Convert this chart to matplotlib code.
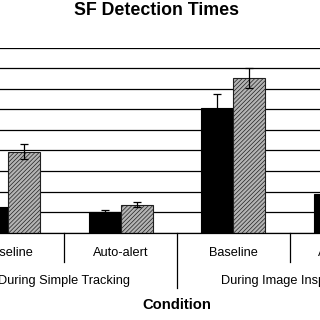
import matplotlib
matplotlib.use('Agg')
import matplotlib.pyplot as plt
import numpy as np

plt.rcParams['font.family'] = ['Liberation Sans', 'DejaVu Sans']
plt.rcParams['hatch.linewidth'] = 0.5

conditions = ['Baseline', 'Auto-alert', 'Baseline', 'Auto-alert']
groups = ['During Simple Tracking', 'During Image Inspection']
first_times = [1.26, 1.01, 6.09, 1.87]
first_err = [0.15, 0.08, 0.64, 0.15]
second_times = [3.95, 1.37, 7.54, 2.3]
second_err = [0.38, 0.10, 0.48, 0.2]

width = 0.284
x = np.arange(len(conditions))

fig = plt.figure(figsize=(3.2, 3.2), dpi=100)
ax = fig.add_axes([0, 1 - 232.7 / 320, 1, 185 / 320])

ax.bar(x - width / 2, first_times, width, color='black', edgecolor='black', linewidth=0.8,
       yerr=first_err, error_kw=dict(ecolor='black', elinewidth=0.9, capsize=3, capthick=0.9))
ax.bar(x + width / 2, second_times, width, color='#b4b4b4', edgecolor='#202020', linewidth=0.8,
       hatch='////////',
       yerr=second_err, error_kw=dict(ecolor='black', elinewidth=0.9, capsize=3, capthick=0.9))

ax.set_xlim(-8 / 112.7, 312 / 112.7)
ax.set_ylim(0, 9)
ax.set_yticks(np.arange(0, 10, 1))
ax.yaxis.grid(True, color='black', linewidth=0.9)
ax.set_axisbelow(True)
for side in ['left', 'right', 'top']:
    ax.spines[side].set_visible(False)
ax.spines['bottom'].set_linewidth(0.9)
ax.set_xticks([])
ax.tick_params(left=False, labelleft=False)

trans = ax.get_xaxis_transform()
for i, name in enumerate(conditions):
    ax.text(i, -0.11, name, transform=trans, ha='center', va='center', fontsize=9.2)
for sep in [0.5, 2.5]:
    ax.plot([sep, sep], [0, -0.157], transform=trans, color='black', linewidth=0.9, clip_on=False)
ax.plot([1.5, 1.5], [0, -0.30], transform=trans, color='black', linewidth=0.9, clip_on=False)
for j, name in enumerate(groups):
    ax.text(0.5 + 2 * j, -0.26, name, transform=trans, ha='center', va='center', fontsize=9.2)
ax.text(1.5, -0.39, 'Condition', transform=trans, ha='center', va='center',
        fontsize=10.6, fontweight='bold')

fig.text(156.5 / 320, 1 - 10.5 / 320, 'SF Detection Times', ha='center', va='center',
         fontsize=12.8, fontweight='bold')

fig.savefig('out.png', dpi=100)
